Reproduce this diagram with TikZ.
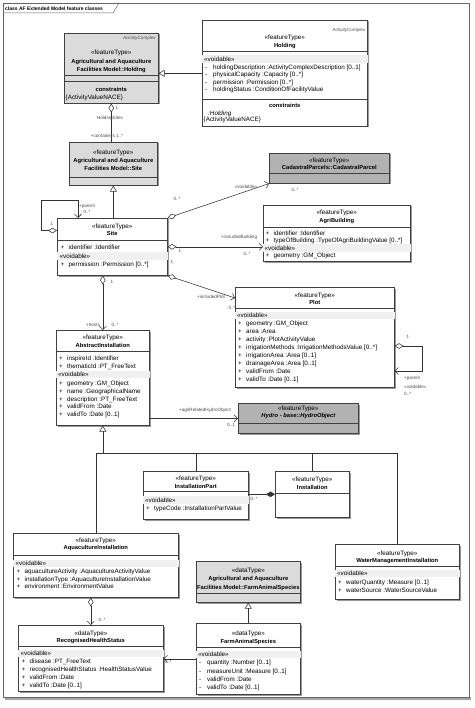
\documentclass[tikz,border=0pt]{standalone}
\usepackage{fontspec}
\setmainfont{Liberation Sans}
\usetikzlibrary{arrows.meta,calc,shadows}

\newcommand{\clsfont}{\fontsize{6.3}{7.7}\selectfont}
\newcommand{\namefont}{\fontsize{5.8}{7}\selectfont\bfseries}
\newcommand{\lblfont}{\fontsize{4.6}{5.5}\selectfont}
\newcommand{\pre}[1]{\makebox[9pt][l]{\hspace{1pt}#1}}

\tikzset{
  cls/.style={draw=black!75, line width=0.6pt, fill=white, anchor=north west, inner sep=0pt,
    drop shadow={shadow xshift=1.2pt, shadow yshift=-1.2pt, fill=black!40, opacity=1}},
  supcls/.style={cls, fill=black!14},
  extcls/.style={cls, fill=black!30},
  sepline/.style={draw=black!75, line width=0.5pt},
  band/.style={fill=black!6},
  stereo/.style={font=\clsfont, anchor=base, inner sep=0pt},
  cname/.style={font=\namefont, anchor=base, inner sep=0pt},
  attr/.style={font=\clsfont, anchor=base west, inner sep=0pt},
  lbl/.style={font=\lblfont, text=black!70, inner sep=0pt},
  conn/.style={draw=black!80, line width=0.55pt},
  gen/.style={conn, -{Triangle[open, length=6pt, width=7pt]}},
  nav/.style={conn, -{Straight Barb[length=3.5pt, width=7pt]}},
  agg/.style={conn, {Diamond[open, length=9pt, width=5.5pt]}-{Straight Barb[length=3.5pt, width=7pt]}},
  comp/.style={conn, {Diamond[length=9pt, width=5.5pt]}-},
}

\begin{document}
\begin{tikzpicture}[x=1pt, y=-1pt]
\useasboundingbox (0,0) rectangle (474,708);

% frame
\fill[black!35] (5,697) rectangle (471,700);
\draw[draw=black!60, line width=0.6pt, fill=white] (3,3) rectangle (469,697);
\draw[draw=black!60, line width=0.5pt] (3,13) -- (113,13) -- (119,3);
\node[font=\fontsize{5}{6}\selectfont\bfseries, anchor=base west, inner sep=0pt] (title) at (5,10.5) {class AF Extended Model feature classes};

% Holding (abstract parent)
\node[supcls, minimum width=94pt, minimum height=70pt] (hsup) at (64,33) {};
\draw[sepline] (hsup.west |- 0,75) -- (hsup.east |- 0,75);
\draw[sepline] (hsup.west |- 0,81) -- (hsup.east |- 0,81);
\node[lbl, anchor=base east, font=\lblfont\itshape] (hsup-ac) at (156,39.5) {ActivityComplex};
\node[stereo] (hsup-s) at (hsup.north |- 0,54.5) {«featureType»};
\node[cname] (hsup-n1) at (hsup.north |- 0,63.5) {Agricultural and Aquaculture};
\node[cname] (hsup-n2) at (hsup.north |- 0,71.5) {Facilities Model::Holding};
\node[cname] (hsup-c) at (hsup.north |- 0,92) {constraints};
\node[attr] (hsup-c1) at (65.5,100) {\{ActivityValueNACE\}};

% Holding
\node[cls, minimum width=165pt, minimum height=106pt] (holding) at (202,20) {};
\draw[sepline] (holding.west |- 0,51) -- (holding.east |- 0,51);
\draw[sepline] (holding.west |- 0,99) -- (holding.east |- 0,99);
\fill[band] (holding.west |- 0,55.5) rectangle (holding.east |- 0,63);
\node[lbl, anchor=base east, font=\lblfont\itshape] (holding-ac) at (365.5,32) {ActivityComplex};
\node[stereo] (holding-s) at (holding.north |- 0,40) {«featureType»};
\node[cname] (holding-n) at (holding.north |- 0,47.5) {Holding};
\foreach \t [count=\i from 0] in {«voidable»,
    {\pre{-}holdingDescription :ActivityComplexDescription [0..1]},
    {\pre{-}physicalCapacity :Capacity [0..*]},
    {\pre{-}permission :Permission [0..*]},
    {\pre{-}holdingStatus :ConditionOfFacilityValue}}
  \node[attr] (holding-a\i) at (204,61.5+7.6*\i) {\t};
\node[cname] (holding-c) at (holding.north |- 0,108) {constraints};
\node[attr, font=\clsfont\itshape] (holding-c1) at (208,115.5) {:Holding};
\node[attr] (holding-c2) at (203.5,121.5) {\{ActivityValueNACE\}};

% Site (abstract parent)
\node[supcls, minimum width=88pt, minimum height=43pt] (ssup) at (69,142) {};
\draw[sepline] (ssup.west |- 0,177) -- (ssup.east |- 0,177);
\node[stereo] (ssup-s) at (ssup.north |- 0,155) {«featureType»};
\node[cname] (ssup-n1) at (ssup.north |- 0,162.5) {Agricultural and Aquaculture};
\node[cname] (ssup-n2) at (ssup.north |- 0,170.5) {Facilities Model::Site};

% Site
\node[cls, minimum width=110pt, minimum height=57pt] (site) at (57,218) {};
\draw[sepline] (site.west |- 0,240) -- (site.east |- 0,240);
\fill[band] (site.west |- 0,252.5) rectangle (site.east |- 0,260);
\node[stereo] (site-s) at (site.north |- 0,228.5) {«featureType»};
\node[cname] (site-n) at (site.north |- 0,235.5) {Site};
\node[attr] (site-a0) at (59.5,249.5) {\pre{+}identifier :Identifier};
\node[attr] (site-a1) at (59.5,258.5) {«voidable»};
\node[attr] (site-a2) at (59.5,266.5) {\pre{+}permission :Permission [0..*]};

% CadastralParcel
\node[extcls, minimum width=120pt, minimum height=30pt] (cad) at (269,153) {};
\draw[sepline] (cad.west |- 0,173) -- (cad.east |- 0,173);
\node[stereo] (cad-s) at (cad.north |- 0,162.5) {«featureType»};
\node[cname] (cad-n) at (cad.north |- 0,169.5) {CadastralParcels::CadastralParcel};

% AgriBuilding
\node[cls, minimum width=147pt, minimum height=56pt] (agri) at (263,205) {};
\draw[sepline] (agri.west |- 0,227) -- (agri.east |- 0,227);
\fill[band] (agri.west |- 0,244.3) rectangle (agri.east |- 0,251.8);
\node[stereo] (agri-s) at (agri.north |- 0,215) {«featureType»};
\node[cname] (agri-n) at (agri.north |- 0,222.5) {AgriBuilding};
\foreach \t [count=\i from 0] in {{\pre{+}identifier :Identifier},
    {\pre{+}typeOfBuilding :TypeOfAgriBuildingValue [0..*]},
    «voidable»,
    {\pre{+}geometry :GM\_Object}}
  \node[attr] (agri-a\i) at (264.5,235.5+7.3*\i) {\t};

% Plot
\node[cls, minimum width=159pt, minimum height=100pt] (plot) at (235,287) {};
\draw[sepline] (plot.west |- 0,308) -- (plot.east |- 0,308);
\fill[band] (plot.west |- 0,311.5) rectangle (plot.east |- 0,319);
\node[stereo] (plot-s) at (plot.north |- 0,297.5) {«featureType»};
\node[cname] (plot-n) at (plot.north |- 0,304) {Plot};
\foreach \t [count=\i from 0] in {«voidable»,
    {\pre{+}geometry :GM\_Object},
    {\pre{+}area :Area},
    {\pre{+}activity :PlotActivityValue},
    {\pre{+}irrigationMethods :IrrigationMethodsValue [0..*]},
    {\pre{+}irrigationArea :Area [0..1]},
    {\pre{+}drainageArea :Area [0..1]},
    {\pre{+}validFrom :Date},
    {\pre{+}validTo :Date [0..1]}}
  \node[attr] (plot-a\i) at (237,317.5+8*\i) {\t};

% AbstractInstallation
\node[cls, minimum width=93pt, minimum height=95pt] (absinst) at (56,330) {};
\draw[sepline] (absinst.west |- 0,351) -- (absinst.east |- 0,351);
\fill[band] (absinst.west |- 0,370.5) rectangle (absinst.east |- 0,378);
\node[stereo] (absinst-s) at (absinst.north |- 0,339) {«featureType»};
\node[cname] (absinst-n) at (absinst.north |- 0,347.5) {AbstractInstallation};
\node[attr] (absinst-i0) at (58,360.5) {\pre{+}inspireId :Identifier};
\node[attr] (absinst-i1) at (58,368) {\pre{+}thematicId :PT\_FreeText};
\node[attr] (absinst-v) at (58,376.5) {«voidable»};
\foreach \t [count=\i from 0] in {{\pre{+}geometry :GM\_Object},
    {\pre{+}name :GeographicalName},
    {\pre{+}description :PT\_FreeText},
    {\pre{+}validFrom :Date},
    {\pre{+}validTo :Date [0..1]}}
  \node[attr] (absinst-a\i) at (58,385.5+7.75*\i) {\t};

% HydroObject
\node[extcls, minimum width=120pt, minimum height=30pt] (hydro) at (238,403) {};
\draw[sepline] (hydro.west |- 0,423) -- (hydro.east |- 0,423);
\node[stereo] (hydro-s) at (hydro.north |- 0,410.5) {«featureType»};
\node[cname, font=\namefont\itshape] (hydro-n) at (hydro.north |- 0,417.5) {Hydro - base::HydroObject};

% InstallationPart
\node[cls, minimum width=105pt, minimum height=48pt] (ipart) at (143,471) {};
\draw[sepline] (ipart.west |- 0,491) -- (ipart.east |- 0,491);
\fill[band] (ipart.west |- 0,496) rectangle (ipart.east |- 0,503.5);
\node[stereo] (ipart-s) at (ipart.north |- 0,480.5) {«featureType»};
\node[cname] (ipart-n) at (ipart.north |- 0,488) {InstallationPart};
\node[attr] (ipart-a0) at (145,502) {«voidable»};
\node[attr] (ipart-a1) at (145,510.5) {\pre{+}typeCode :InstallationPartValue};

% Installation
\node[cls, minimum width=74pt, minimum height=46pt] (inst) at (275,471) {};
\draw[sepline] (inst.west |- 0,493) -- (inst.east |- 0,493);
\node[stereo] (inst-s) at (inst.north |- 0,481.5) {«featureType»};
\node[cname] (inst-n) at (inst.north |- 0,489) {Installation};

% AquacultureInstallation
\node[cls, minimum width=165pt, minimum height=64pt] (aqua) at (13,533) {};
\draw[sepline] (aqua.west |- 0,555) -- (aqua.east |- 0,555);
\fill[band] (aqua.west |- 0,559.5) rectangle (aqua.east |- 0,567);
\node[stereo] (aqua-s) at (aqua.north |- 0,542.5) {«featureType»};
\node[cname] (aqua-n) at (aqua.north |- 0,549.5) {AquacultureInstallation};
\foreach \t [count=\i from 0] in {«voidable»,
    {\pre{+}aquacultureActivity :AquacultureActivityValue},
    {\pre{+}installationType :AquacultureInstallationValue},
    {\pre{+}environment :EnvironmentValue}}
  \node[attr] (aqua-a\i) at (15.5,565.5+7.8*\i) {\t};

% WaterManagementInstallation
\node[cls, minimum width=124pt, minimum height=55pt] (water) at (335,544) {};
\draw[sepline] (water.west |- 0,566) -- (water.east |- 0,566);
\fill[band] (water.west |- 0,569.5) rectangle (water.east |- 0,577);
\node[stereo] (water-s) at (water.north |- 0,555.5) {«featureType»};
\node[cname] (water-n) at (water.north |- 0,562.5) {WaterManagementInstallation};
\foreach \t [count=\i from 0] in {«voidable»,
    {\pre{+}waterQuantity :Measure [0..1]},
    {\pre{+}waterSource :WaterSourceValue}}
  \node[attr] (water-a\i) at (337,575.5+8.7*\i) {\t};

% FarmAnimalSpecies (abstract parent)
\node[supcls, minimum width=104pt, minimum height=41pt] (fsup) at (196,561) {};
\draw[sepline] (fsup.west |- 0,593) -- (fsup.east |- 0,593);
\node[stereo] (fsup-s) at (fsup.north |- 0,572.5) {«dataType»};
\node[cname] (fsup-n1) at (fsup.north |- 0,580.5) {Agricultural and Aquaculture};
\node[cname] (fsup-n2) at (fsup.north |- 0,589) {Facilities Model::FarmAnimalSpecies};

% FarmAnimalSpecies
\node[cls, minimum width=104pt, minimum height=71pt] (fas) at (196,623) {};
\draw[sepline] (fas.west |- 0,647) -- (fas.east |- 0,647);
\fill[band] (fas.west |- 0,650.5) rectangle (fas.east |- 0,658);
\node[stereo] (fas-s) at (fas.north |- 0,635.5) {«dataType»};
\node[cname] (fas-n) at (fas.north |- 0,643) {FarmAnimalSpecies};
\foreach \t [count=\i from 0] in {«voidable»,
    {\pre{-}quantity :Number [0..1]},
    {\pre{-}measureUnit :Measure [0..1]},
    {\pre{-}validFrom :Date},
    {\pre{-}validTo :Date [0..1]}}
  \node[attr] (fas-a\i) at (198,656.5+8.3*\i) {\t};

% RecognisedHealthStatus
\node[cls, minimum width=145pt, minimum height=66pt] (rhs) at (18,625) {};
\draw[sepline] (rhs.west |- 0,646) -- (rhs.east |- 0,646);
\fill[band] (rhs.west |- 0,649.5) rectangle (rhs.east |- 0,657);
\node[stereo] (rhs-s) at (rhs.north |- 0,635.5) {«dataType»};
\node[cname] (rhs-n) at (rhs.north |- 0,642) {RecognisedHealthStatus};
\foreach \t [count=\i from 0] in {«voidable»,
    {\pre{+}disease :PT\_FreeText},
    {\pre{+}recognisedHealthStatus :HealthStatusValue},
    {\pre{+}validFrom :Date},
    {\pre{+}validTo :Date [0..1]}}
  \node[attr] (rhs-a\i) at (20.5,655.5+7.9*\i) {\t};

% generalisations
\draw[gen] (holding.west) -- (holding.west -| hsup.east);
\draw[gen] (ssup.south |- site.north) -- (ssup.south);
\draw[gen] (fas.north) -- (fsup.south);
\coordinate (gbus) at ($(absinst.south)+(0,28)$);
\draw[gen] (gbus) -- (absinst.south);
\draw[conn] (aqua.north) |- (water.north |- gbus) -- (water.north);
\draw[conn] (ipart.north) -- (ipart.north |- gbus);
\draw[conn] (inst.north) -- (inst.north |- gbus);

% associations
\draw[conn, {Diamond[open, length=9pt, width=5.5pt]}-] (hsup.south) -- (hsup.south |- ssup.north);
\node[lbl] (l-hs1) at (117,108) {1};
\node[lbl] (l-hs2) at (110,118) {HoldingSites};
\node[lbl] (l-hs3) at (107,136) {+containers 1..*};

\draw[agg] ($(site.north west)+(0,12.5)$) -- ++(-16,0) |- ($(site.north west)+(21,-18)$) -- ($(site.north west)+(21,0)$);
\node[lbl] (l-sp1) at (52,224) {1};
\node[lbl] (l-sp2) at (87,206.5) {+parent};
\node[lbl] (l-sp3) at (87,212) {0..*};

\draw[agg] (site.north east) -- (cad.south west);
\node[lbl] (l-sc1) at (177,199) {0..*};
\node[lbl] (l-sc2) at (246,187) {«voidable»};
\node[lbl] (l-sc3) at (295,190) {0..*};

\draw[agg] (site.east) -- (site.east -| agri.west);
\node[lbl] (l-sa1) at (180,251) {1};
\node[lbl] (l-sa2) at (239,237.5) {+includedBuilding};
\node[lbl] (l-sa3) at (247,253.5) {0..*};

\draw[agg] (site.south east) -- ($(plot.north west)+(0,11)$);
\node[lbl] (l-sl1) at (172,262) {1};
\node[lbl] (l-sl2) at (211,297) {+includedPlot};
\node[lbl] (l-sl3) at (232,307.5) {0..*};

\draw[agg] (site.south -| absinst.north) -- (absinst.north);
\node[lbl] (l-si1) at (112,281.5) {1};
\node[lbl] (l-si2) at (93,324.5) {+hosts};
\node[lbl] (l-si3) at (115,324.5) {0..*};

\draw[agg] ($(plot.north east)+(0,59)$) -- ++(28,0) |- ($(plot.north east)+(0,84)$);
\node[lbl] (l-pp1) at (408,337) {1};
\node[lbl, anchor=west] (l-pp2) at (404,378.5) {+parent};
\node[lbl, anchor=west] (l-pp3) at (404,386.5) {«voidable»};
\node[lbl, anchor=west] (l-pp4) at (404,393.5) {0..*};

\draw[nav] (hydro.west -| absinst.east) -- (hydro.west);
\node[lbl] (l-ah1) at (205,410.5) {+agriRelatedHydroObject};
\node[lbl] (l-ah2) at (231,425) {0..1};

\draw[comp] (inst.west) -- (inst.west -| ipart.east);
\node[lbl] (l-ip1) at (254,498.5) {0..*};

\draw[agg] (rhs.north |- aqua.south) -- (rhs.north);
\node[lbl] (l-ar1) at (102,619.5) {0..*};

\draw[nav] (fas.west) -- (fas.west -| rhs.east);
\node[lbl] (l-fr1) at (168,662) {0..*};
\end{tikzpicture}
\end{document}
